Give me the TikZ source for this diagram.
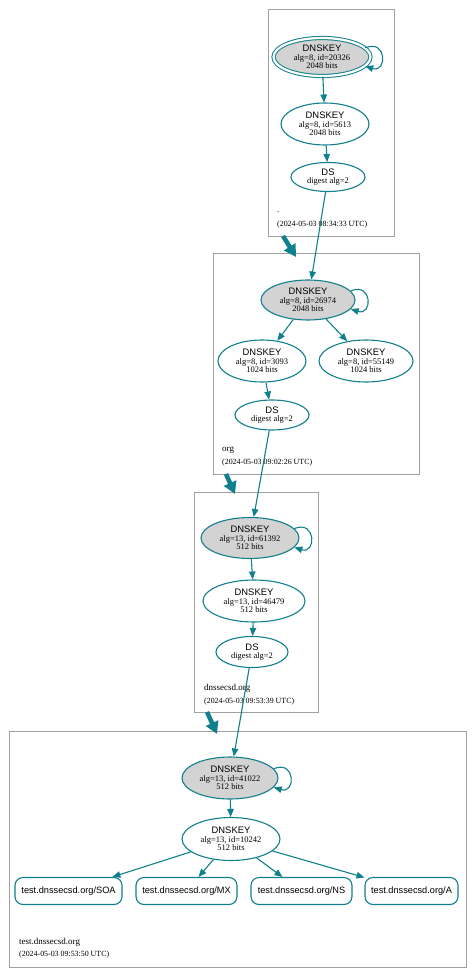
\documentclass[tikz,border=0pt]{standalone}
\usepackage{fontspec}
\setmainfont{Liberation Serif}
\setsansfont{Liberation Sans}
\usetikzlibrary{shapes.geometric,arrows.meta}
\definecolor{tealc}{RGB}{16,128,142}
\definecolor{keygray}{RGB}{211,211,211}
\definecolor{boxgray}{RGB}{160,160,160}
\newcommand{\kt}[2]{{\sffamily\fontsize{9.4}{9}\selectfont DNSKEY}\\#1\\#2}
\newcommand{\dst}{{\sffamily\fontsize{9.4}{9}\selectfont DS}\\digest alg=2}
\tikzset{
 keynode/.style={ellipse, draw=tealc, line width=1.1pt, inner sep=0pt, align=center, fill=white,
   font=\fontsize{8.5}{8.7}\selectfont},
 ksk/.style={keynode, fill=keygray},
 rrnode/.style={rectangle, rounded corners=8pt, draw=tealc, line width=1.1pt, minimum height=27pt,
   inner sep=0pt, font=\sffamily\fontsize{9.2}{10}\selectfont},
 edge/.style={draw=tealc, line width=1.1pt, -{Triangle[length=8pt,width=6.5pt]}},
 deleg/.style={draw=tealc, line width=4.5pt, -{Triangle[length=12pt,width=13pt]}},
 zonebox/.style={draw=boxgray, line width=0.8pt},
 zlabel/.style={anchor=west, inner sep=0pt, font=\fontsize{9}{10}\selectfont},
 ztime/.style={anchor=west, inner sep=0pt, font=\fontsize{7.9}{9}\selectfont},
}
\begin{document}
\begin{tikzpicture}[x=1pt,y=-1pt]
\useasboundingbox[fill=white] (0,0) rectangle (474,976);

% cluster boxes
\draw[zonebox] (268,9) rectangle (394,236);
\draw[zonebox] (213,253) rectangle (419,474);
\draw[zonebox] (194,492) rectangle (318,712);
\draw[zonebox] (9,731) rectangle (466,967);

% zone labels
\node[zlabel] (l1) at (277,212) {.};
\node[ztime] (t1) at (277,225) {(2024-05-03 08:34:33 UTC)};
\node[zlabel] (l2) at (222,450) {org};
\node[ztime] (t2) at (222,463) {(2024-05-03 09:02:26 UTC)};
\node[zlabel] (l3) at (204,688) {dnssecsd.org};
\node[ztime] (t3) at (204,702) {(2024-05-03 09:53:39 UTC)};
\node[zlabel] (l4) at (19,942) {test.dnssecsd.org};
\node[ztime] (t4) at (19,955) {(2024-05-03 09:53:50 UTC)};

% root zone
\node[ksk, double=white, double distance=2.2pt, line width=1pt, minimum width=97pt, minimum height=38pt]
  (r1) at (322,57) {\kt{alg=8, id=20326}{2048 bits}};
\node[keynode, minimum width=88pt, minimum height=42pt] (r2) at (325,124) {\kt{alg=8, id=5613}{2048 bits}};
\node[keynode, minimum width=74pt, minimum height=29pt] (rds) at (328,177) {\dst};

% org zone
\node[ksk, minimum width=94pt, minimum height=40pt] (o1) at (308,300) {\kt{alg=8, id=26974}{2048 bits}};
\node[keynode, minimum width=88pt, minimum height=42pt] (o2) at (262,361) {\kt{alg=8, id=3093}{1024 bits}};
\node[keynode, minimum width=94pt, minimum height=42pt] (o3) at (366,361) {\kt{alg=8, id=55149}{1024 bits}};
\node[keynode, minimum width=74pt, minimum height=30pt] (ods) at (272,415) {\dst};

% dnssecsd.org zone
\node[ksk, minimum width=98pt, minimum height=41pt] (d1) at (250,538) {\kt{alg=13, id=61392}{512 bits}};
\node[keynode, minimum width=102pt, minimum height=42pt] (d2) at (254,601) {\kt{alg=13, id=46479}{512 bits}};
\node[keynode, minimum width=72pt, minimum height=31pt] (dds) at (252,652) {\dst};

% test.dnssecsd.org zone
\node[ksk, minimum width=96pt, minimum height=42pt] (e1) at (230,778) {\kt{alg=13, id=41022}{512 bits}};
\node[keynode, minimum width=98pt, minimum height=43pt] (e2) at (231,839) {\kt{alg=13, id=10242}{512 bits}};
\node[rrnode, minimum width=107pt] (soa) at (68.5,891) {test.dnssecsd.org/SOA};
\node[rrnode, minimum width=101pt] (mx) at (186.5,891) {test.dnssecsd.org/MX};
\node[rrnode, minimum width=101pt] (ns) at (301.5,891) {test.dnssecsd.org/NS};
\node[rrnode, minimum width=93pt] (arec) at (411.5,891) {test.dnssecsd.org/A};

% self loops
\foreach \n in {r1,o1,d1,e1}{
  \draw[edge] (\n.12) .. controls +(22,-9) and +(22,7) .. (\n.-12);
}

% edges
\draw[edge] (r1) -- (r2);
\draw[edge] (r2) -- (rds);
\draw[edge] (rds) -- (o1);
\draw[edge] (o1) -- (o2);
\draw[edge] (o1) -- (o3);
\draw[edge] (o2) -- (ods);
\draw[edge] (ods) -- (d1);
\draw[edge] (d1) -- (d2);
\draw[edge] (d2) -- (dds);
\draw[edge] (dds) -- (e1);
\draw[edge] (e1) -- (e2);
\draw[edge] (e2) -- (soa);
\draw[edge] (e2) -- (mx);
\draw[edge] (e2) -- (ns);
\draw[edge] (e2) -- (arec);

% delegation arrows between zones
\coordinate (z1b) at (283,236);
\coordinate (z2t) at (296,257);
\coordinate (z2b) at (226,474);
\coordinate (z3t) at (235,494);
\coordinate (z3b) at (207,712);
\coordinate (z4t) at (217,734);
\draw[deleg] (z1b) -- (z2t);
\draw[deleg] (z2b) -- (z3t);
\draw[deleg] (z3b) -- (z4t);
\end{tikzpicture}
\end{document}
